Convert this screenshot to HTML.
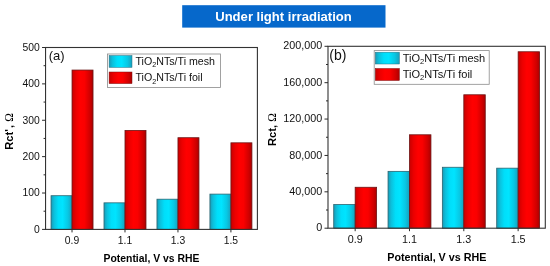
<!DOCTYPE html>
<html><head><meta charset="utf-8"><title>Under light irradiation</title>
<style>
html,body{margin:0;padding:0;background:#fff;}
svg{display:block}
text{font-family:"Liberation Sans",Arial,sans-serif;fill:#111}
.t{font-size:10.5px}
.l{font-size:10.65px}
.b{font-size:10.5px;font-weight:bold;fill:#000}
.p{fill:#111}
</style></head><body>
<svg width="550" height="266" viewBox="0 0 550 266">
<defs>
<linearGradient id="gc" x1="0" x2="1" y1="0" y2="0">
<stop offset="0" stop-color="#1a9ab6"/><stop offset="0.15" stop-color="#0cc0dc"/><stop offset="0.35" stop-color="#00defa"/><stop offset="0.55" stop-color="#00e4ff"/><stop offset="0.8" stop-color="#08c8e4"/><stop offset="1" stop-color="#18a0bc"/>
</linearGradient>
<linearGradient id="gr" x1="0" x2="1" y1="0" y2="0">
<stop offset="0" stop-color="#c80000"/><stop offset="0.2" stop-color="#ec0000"/><stop offset="0.4" stop-color="#ff0000"/><stop offset="0.6" stop-color="#fa0000"/><stop offset="0.85" stop-color="#d00000"/><stop offset="1" stop-color="#ac0000"/>
</linearGradient>
</defs>
<rect width="550" height="266" fill="#fff"/>
<rect x="182.2" y="5.2" width="203.3" height="22.4" fill="#0668cb"/>
<text x="283.5" y="21" text-anchor="middle" font-size="13.08" font-weight="bold" style="fill:#fff">Under light irradiation</text>
<rect x="51.03" y="195.71" width="21.00" height="33.69" fill="url(#gc)" stroke="#2c6470" stroke-width="0.8"/>
<rect x="72.03" y="70.06" width="21.00" height="159.34" fill="url(#gr)" stroke="#6a1515" stroke-width="0.8"/>
<rect x="103.99" y="202.84" width="21.00" height="26.56" fill="url(#gc)" stroke="#2c6470" stroke-width="0.8"/>
<rect x="124.99" y="130.45" width="21.00" height="98.95" fill="url(#gr)" stroke="#6a1515" stroke-width="0.8"/>
<rect x="156.96" y="199.20" width="21.00" height="30.20" fill="url(#gc)" stroke="#2c6470" stroke-width="0.8"/>
<rect x="177.96" y="137.72" width="21.00" height="91.68" fill="url(#gr)" stroke="#6a1515" stroke-width="0.8"/>
<rect x="209.92" y="194.11" width="21.00" height="35.29" fill="url(#gc)" stroke="#2c6470" stroke-width="0.8"/>
<rect x="230.92" y="142.82" width="21.00" height="86.58" fill="url(#gr)" stroke="#6a1515" stroke-width="0.8"/>
<rect x="45.55" y="47.5" width="211.84999999999997" height="181.9" fill="none" stroke="#333" stroke-width="1.1"/>
<line x1="42.05" y1="229.40" x2="45.55" y2="229.40" stroke="#2b2b2b" stroke-width="1"/>
<text x="39.7" y="232.70" text-anchor="end" class="t" style="font-size:10.35px">0</text>
<line x1="43.55" y1="211.21" x2="45.55" y2="211.21" stroke="#2b2b2b" stroke-width="1"/>
<line x1="42.05" y1="193.02" x2="45.55" y2="193.02" stroke="#2b2b2b" stroke-width="1"/>
<text x="39.7" y="196.32" text-anchor="end" class="t" style="font-size:10.35px">100</text>
<line x1="43.55" y1="174.83" x2="45.55" y2="174.83" stroke="#2b2b2b" stroke-width="1"/>
<line x1="42.05" y1="156.64" x2="45.55" y2="156.64" stroke="#2b2b2b" stroke-width="1"/>
<text x="39.7" y="159.94" text-anchor="end" class="t" style="font-size:10.35px">200</text>
<line x1="43.55" y1="138.45" x2="45.55" y2="138.45" stroke="#2b2b2b" stroke-width="1"/>
<line x1="42.05" y1="120.26" x2="45.55" y2="120.26" stroke="#2b2b2b" stroke-width="1"/>
<text x="39.7" y="123.56" text-anchor="end" class="t" style="font-size:10.35px">300</text>
<line x1="43.55" y1="102.07" x2="45.55" y2="102.07" stroke="#2b2b2b" stroke-width="1"/>
<line x1="42.05" y1="83.88" x2="45.55" y2="83.88" stroke="#2b2b2b" stroke-width="1"/>
<text x="39.7" y="87.18" text-anchor="end" class="t" style="font-size:10.35px">400</text>
<line x1="43.55" y1="65.69" x2="45.55" y2="65.69" stroke="#2b2b2b" stroke-width="1"/>
<line x1="42.05" y1="47.50" x2="45.55" y2="47.50" stroke="#2b2b2b" stroke-width="1"/>
<text x="39.7" y="50.80" text-anchor="end" class="t" style="font-size:10.35px">500</text>
<line x1="72.03" y1="229.4" x2="72.03" y2="232.4" stroke="#2b2b2b" stroke-width="1"/>
<text x="72.03" y="244.20" text-anchor="middle" class="t" style="font-size:10.35px">0.9</text>
<line x1="124.99" y1="229.4" x2="124.99" y2="232.4" stroke="#2b2b2b" stroke-width="1"/>
<text x="124.99" y="244.20" text-anchor="middle" class="t" style="font-size:10.35px">1.1</text>
<line x1="177.96" y1="229.4" x2="177.96" y2="232.4" stroke="#2b2b2b" stroke-width="1"/>
<text x="177.96" y="244.20" text-anchor="middle" class="t" style="font-size:10.35px">1.3</text>
<line x1="230.92" y1="229.4" x2="230.92" y2="232.4" stroke="#2b2b2b" stroke-width="1"/>
<text x="230.92" y="244.20" text-anchor="middle" class="t" style="font-size:10.35px">1.5</text>
<text x="151.47" y="261.6" text-anchor="middle" class="b" style="font-size:10.4px">Potential, V vs RHE</text>
<text transform="translate(13.4,113.1) rotate(-90)" text-anchor="end" class="b" style="font-size:11.2px">Rct'<tspan dx="1.2">, </tspan><tspan font-family="'Liberation Serif', 'DejaVu Serif', serif" font-weight="normal" font-size="11.6">Ω</tspan></text>
<text x="48.75" y="60.3" font-size="13" class="p">(a)</text>
<rect x="107.4" y="54" width="113.1" height="33.400000000000006" fill="#fff" stroke="#8a8a8a" stroke-width="0.8"/>
<rect x="109.1" y="55.5" width="22.900000000000006" height="11.900000000000006" fill="url(#gc)" stroke="#2a6f80" stroke-width="0.5"/>
<rect x="109.1" y="72" width="22.900000000000006" height="11.599999999999994" fill="url(#gr)" stroke="#7a1010" stroke-width="0.5"/>
<text x="135.5" y="65" class="l" style="font-size:10.65px">TiO<tspan dy="2.2" font-size="7.24">2</tspan><tspan dy="-2.2">NTs/Ti mesh</tspan></text>
<text x="135.5" y="81.4" class="l" style="font-size:10.65px">TiO<tspan dy="2.2" font-size="7.24">2</tspan><tspan dy="-2.2">NTs/Ti foil</tspan></text>
<rect x="333.71" y="204.55" width="21.45" height="23.65" fill="url(#gc)" stroke="#2c6470" stroke-width="0.8"/>
<rect x="355.16" y="187.27" width="21.45" height="40.93" fill="url(#gr)" stroke="#6a1515" stroke-width="0.8"/>
<rect x="388.04" y="171.36" width="21.45" height="56.84" fill="url(#gc)" stroke="#2c6470" stroke-width="0.8"/>
<rect x="409.49" y="134.79" width="21.45" height="93.41" fill="url(#gr)" stroke="#6a1515" stroke-width="0.8"/>
<rect x="442.36" y="167.26" width="21.45" height="60.94" fill="url(#gc)" stroke="#2c6470" stroke-width="0.8"/>
<rect x="463.81" y="94.78" width="21.45" height="133.42" fill="url(#gr)" stroke="#6a1515" stroke-width="0.8"/>
<rect x="496.69" y="168.17" width="21.45" height="60.03" fill="url(#gc)" stroke="#2c6470" stroke-width="0.8"/>
<rect x="518.14" y="51.76" width="21.45" height="176.44" fill="url(#gr)" stroke="#6a1515" stroke-width="0.8"/>
<rect x="328" y="46.3" width="217.29999999999995" height="181.89999999999998" fill="none" stroke="#333" stroke-width="1.1"/>
<line x1="324.5" y1="228.20" x2="328" y2="228.20" stroke="#2b2b2b" stroke-width="1"/>
<text x="322.2" y="231.30" text-anchor="end" class="t" style="font-size:10.75px">0</text>
<line x1="326.0" y1="210.01" x2="328" y2="210.01" stroke="#2b2b2b" stroke-width="1"/>
<line x1="324.5" y1="191.82" x2="328" y2="191.82" stroke="#2b2b2b" stroke-width="1"/>
<text x="322.2" y="194.92" text-anchor="end" class="t" style="font-size:10.75px">40,000</text>
<line x1="326.0" y1="173.63" x2="328" y2="173.63" stroke="#2b2b2b" stroke-width="1"/>
<line x1="324.5" y1="155.44" x2="328" y2="155.44" stroke="#2b2b2b" stroke-width="1"/>
<text x="322.2" y="158.54" text-anchor="end" class="t" style="font-size:10.75px">80,000</text>
<line x1="326.0" y1="137.25" x2="328" y2="137.25" stroke="#2b2b2b" stroke-width="1"/>
<line x1="324.5" y1="119.06" x2="328" y2="119.06" stroke="#2b2b2b" stroke-width="1"/>
<text x="322.2" y="122.16" text-anchor="end" class="t" style="font-size:10.75px">120,000</text>
<line x1="326.0" y1="100.87" x2="328" y2="100.87" stroke="#2b2b2b" stroke-width="1"/>
<line x1="324.5" y1="82.68" x2="328" y2="82.68" stroke="#2b2b2b" stroke-width="1"/>
<text x="322.2" y="85.78" text-anchor="end" class="t" style="font-size:10.75px">160,000</text>
<line x1="326.0" y1="64.49" x2="328" y2="64.49" stroke="#2b2b2b" stroke-width="1"/>
<line x1="324.5" y1="46.30" x2="328" y2="46.30" stroke="#2b2b2b" stroke-width="1"/>
<text x="322.2" y="49.40" text-anchor="end" class="t" style="font-size:10.75px">200,000</text>
<line x1="355.16" y1="228.2" x2="355.16" y2="231.2" stroke="#2b2b2b" stroke-width="1"/>
<text x="355.16" y="242.70" text-anchor="middle" class="t" style="font-size:10.75px">0.9</text>
<line x1="409.49" y1="228.2" x2="409.49" y2="231.2" stroke="#2b2b2b" stroke-width="1"/>
<text x="409.49" y="242.70" text-anchor="middle" class="t" style="font-size:10.75px">1.1</text>
<line x1="463.81" y1="228.2" x2="463.81" y2="231.2" stroke="#2b2b2b" stroke-width="1"/>
<text x="463.81" y="242.70" text-anchor="middle" class="t" style="font-size:10.75px">1.3</text>
<line x1="518.14" y1="228.2" x2="518.14" y2="231.2" stroke="#2b2b2b" stroke-width="1"/>
<text x="518.14" y="242.70" text-anchor="middle" class="t" style="font-size:10.75px">1.5</text>
<text x="436.85" y="260.7" text-anchor="middle" class="b" style="font-size:10.75px">Potential, V vs RHE</text>
<text transform="translate(276,113.1) rotate(-90)" text-anchor="end" class="b" style="font-size:11.2px">Rct, <tspan font-family="'Liberation Serif', 'DejaVu Serif', serif" font-weight="normal" font-size="11.6">Ω</tspan></text>
<text x="329.3" y="60.3" font-size="14" class="p">(b)</text>
<rect x="374.2" y="50.6" width="115.0" height="33.699999999999996" fill="#fff" stroke="#8a8a8a" stroke-width="0.8"/>
<rect x="375.3" y="52.2" width="24.099999999999966" height="11.799999999999997" fill="url(#gc)" stroke="#2a6f80" stroke-width="0.5"/>
<rect x="375.3" y="68.5" width="24.099999999999966" height="12.0" fill="url(#gr)" stroke="#7a1010" stroke-width="0.5"/>
<text x="402.7" y="62.1" class="l" style="font-size:11.05px">TiO<tspan dy="2.2" font-size="7.51">2</tspan><tspan dy="-2.2">NTs/Ti mesh</tspan></text>
<text x="402.7" y="78.1" class="l" style="font-size:11.05px">TiO<tspan dy="2.2" font-size="7.51">2</tspan><tspan dy="-2.2">NTs/Ti foil</tspan></text>
</svg>
</body></html>
